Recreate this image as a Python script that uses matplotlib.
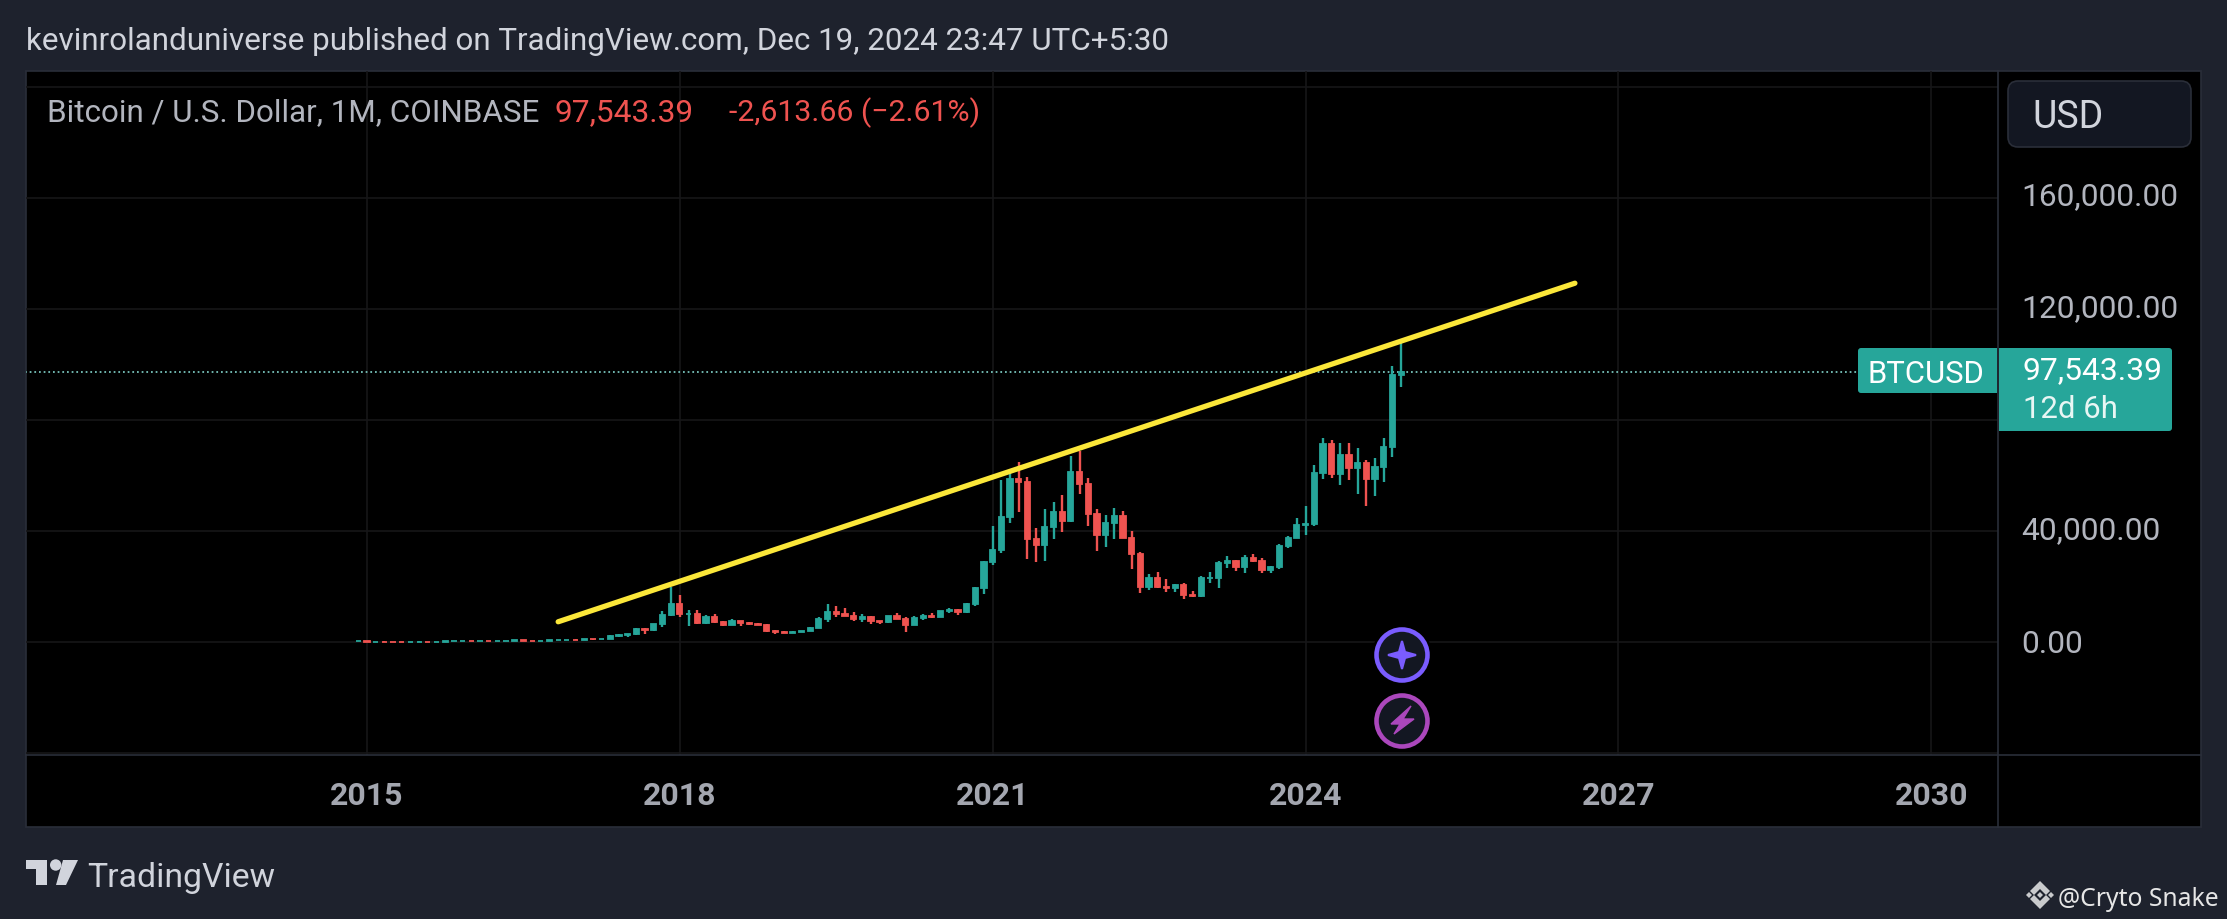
import matplotlib
matplotlib.use("Agg")
import matplotlib.pyplot as plt
from matplotlib.patches import Rectangle, FancyBboxPatch, Circle, Polygon
from matplotlib.transforms import ScaledTranslation

plt.rcParams['font.family'] = ['Roboto', 'DejaVu Sans']

# ---------- data (month index 0 = Jan 2015) ----------
months = list(range(-1, 120))
opens = [310,320,226,254,244,236,230,263,284,230,236,315,377,
 430,369,437,416,448,531,673,624,575,609,700,745,
 963,960,1190,1071,1350,2280,2480,2875,4730,4340,6440,9950,
 13880,10280,10320,6925,9240,7495,6400,7730,7025,6630,6370,4040,
 3700,3435,3815,4105,5260,8550,10760,10085,9590,8290,9150,7545,
 7170,9350,8525,6410,8620,9450,9135,11350,11655,10775,13800,19700,
 28990,33110,45240,58800,57700,37300,35040,41460,47100,43820,61300,56950,
 46220,38490,43160,45510,37630,31800,19930,23300,20050,19430,20490,17170,
 16540,23130,23140,28470,29230,27220,30470,29230,25940,26970,34650,37720,
 42270,42580,61130,71330,60670,67530,62770,64640,58970,63330,70220,96400]
closes = [320,226,254,244,236,230,263,284,230,236,315,377,430,
 369,437,416,448,531,673,624,575,609,700,745,963,
 960,1190,1071,1350,2280,2480,2875,4730,4340,6440,9950,13880,
 10280,10320,6925,9240,7495,6400,7730,7025,6630,6370,4040,3700,
 3435,3815,4105,5260,8550,10760,10085,9590,8290,9150,7545,7170,
 9350,8525,6410,8620,9450,9135,11350,11655,10775,13800,19700,28990,
 33110,45240,58800,57700,37300,35040,41460,47100,43820,61300,56950,46220,
 38490,43160,45510,37630,31800,19930,23300,20050,19430,20490,17170,16540,
 23130,23140,28470,29230,27220,30470,29230,25940,26970,34650,37720,42270,
 42580,61130,71330,60670,67530,62770,64640,58970,63330,70220,96400,97543]
highs = [378,320,265,300,262,247,268,318,284,245,334,502,465,
 462,448,441,470,548,780,704,627,628,735,760,979,
 1150,1200,1350,1355,2770,2980,2920,4980,4980,6470,11395,19891,
 17170,11790,11700,9765,10020,7780,8480,7750,7410,6800,6580,4320,
 4080,4210,4110,5630,9080,13880,13150,12330,10950,10370,9510,7750,
 9575,10500,9190,9460,10070,10380,11440,12480,12075,14100,19900,29300,
 41980,58350,61780,64900,59600,41300,48200,50500,52950,67000,69000,59050,
 47990,45850,48240,47450,40000,32400,24670,25200,22790,21090,21480,18390,
 23950,25250,29190,31050,29820,31440,31850,30230,27500,35280,38450,44700,
 48970,64000,73800,72800,71950,72000,70000,65600,66500,73620,99500,108600]
lows = [300,160,212,235,214,227,220,253,162,224,234,307,346,
 352,363,396,412,436,526,605,480,570,604,680,737,
 750,915,891,1060,1340,2070,1830,2710,2950,4100,5500,9500,
 9200,5870,6440,6430,6980,5755,6070,5880,6070,6200,3560,3120,
 3360,3370,3740,4100,5330,7440,9070,9320,7710,7300,6520,6425,
 6850,8410,3850,6150,8110,8900,8975,10530,9825,10380,13200,17570,
 27730,32300,43000,47000,30000,28800,29300,37300,39600,43200,53300,42000,
 32900,34300,37200,37600,26350,17590,18770,19550,18150,18170,15460,16260,
 16500,21350,19550,26940,25800,24800,28860,25130,24900,26560,34100,37630,
 38500,41880,59000,59150,56550,58400,53500,49000,52550,57700,66800,92000]
last_price = 97543.39

trend_months = [22, 139]
trend_prices = [7400, 129400]

x_tick_months = [0, 36, 72, 108, 144, 180]
x_tick_labels = ['2015', '2018', '2021', '2024', '2027', '2030']
y_ticks = [-40000, 0, 40000, 80000, 120000, 160000, 200000]
y_tick_labels = ['', '0.00', '40,000.00', '', '120,000.00', '160,000.00', '']

BG = '#1e222d'; GRID = '#161618'; BORDER = '#2a2e39'
TEAL = '#26a69a'; RED = '#ef5350'; TXT = '#d1d4dc'; GRAY = '#b2b5be'

W, H = 2227, 920
fig = plt.figure(figsize=(W/100, H/100), dpi=100, facecolor=BG)

def axpx(x0, y0, x1, y1, **k):
    return fig.add_axes([x0/W, 1-y1/H, (x1-x0)/W, (y1-y0)/H], **k)

# backdrop
bg = fig.add_axes([0, 0, 1, 1], zorder=0)
bg.set_xlim(0, W); bg.set_ylim(H, 0); bg.axis('off')
bg.add_patch(Rectangle((26, 72), 2175, 756, fc='black', ec=BORDER, lw=1.2))

# main chart
ax = axpx(26, 72, 1998, 756, zorder=1)
ax.patch.set_alpha(0)
px_per_month = 8.69
ax.set_xlim((26-367)/px_per_month, (1998-367)/px_per_month)
ax.set_ylim((643.3-756)/2.775*1000, (643.3-72)/2.775*1000)
for s in ax.spines.values():
    s.set_visible(False)
ax.set_xticks(x_tick_months, x_tick_labels)
ax.yaxis.tick_right()
ax.set_yticks(y_ticks, y_tick_labels)
ax.tick_params(axis='x', length=0, pad=18, labelsize=23, labelcolor='#a3a6af')
ax.tick_params(axis='y', length=0, pad=17, labelsize=22.9, labelcolor=GRAY)
for l in ax.get_xticklabels():
    l.set_fontweight('bold')
label_lift_px = [0, 1.5, 4.5, 0, 4.5, 5.5, 0]
for l, lift in zip(ax.get_yticklabels(), label_lift_px):
    l.set_transform(l.get_transform() + ScaledTranslation(0, lift/100, fig.dpi_scale_trans))
ax.grid(True, color=GRID, lw=1.2, zorder=0)
ax.set_axisbelow(True)

colors = [TEAL if c >= o else RED for o, c in zip(opens, closes)]
ax.vlines(months, lows, highs, colors=colors, lw=1.7, zorder=3)
ax.bar(months, [c-o for o, c in zip(opens, closes)], bottom=opens, width=0.6,
       color=colors, edgecolor=colors, lw=1.3, zorder=3)
ax.plot([-39.3, 188], [last_price, last_price], color='#6fb5ae', lw=1.4,
        ls=(0, (0.9, 1.5)), zorder=2, dash_capstyle='butt')
ax.plot(trend_months, trend_prices, color='#fbe739', lw=3.8, solid_capstyle='round', zorder=4)

# overlay
ov = fig.add_axes([0, 0, 1, 1], zorder=2)
ov.set_xlim(0, W); ov.set_ylim(H, 0); ov.axis('off'); ov.patch.set_alpha(0)
ov.plot([26, 2201], [756, 756], color=BORDER, lw=1.2)
ov.plot([1998, 1998], [72, 828], color=BORDER, lw=1.2)

def txt(x, y, s, **k):
    k.setdefault('va', 'center_baseline'); k.setdefault('ha', 'left')
    return ov.text(x, y, s, **k)

txt(26, 38.5, 'kevinrolanduniverse published on TradingView.com, Dec 19, 2024 23:47 UTC+5:30',
    fontsize=22.6, color=TXT)
txt(47, 109.5, 'Bitcoin / U.S. Dollar, 1M, COINBASE', fontsize=22.6, color=GRAY)
txt(555, 109.5, '97,543.39', fontsize=22.8, color=RED)
txt(729, 109.5, '-2,613.66 (\u22122.61%)', fontsize=21.8, color=RED)

# USD button
ov.add_patch(FancyBboxPatch((2014, 88), 171, 54, boxstyle='round,pad=6,rounding_size=10',
                            fc='#131722', ec=BORDER, lw=1.2))
txt(2032, 114, 'USD', fontsize=27, color=TXT)

# price labels
ov.add_patch(FancyBboxPatch((1861, 352), 140, 39, boxstyle='round,pad=3,rounding_size=3', fc=TEAL, ec='none'))
ov.add_patch(Rectangle((1990, 349), 7.5, 45, fc=TEAL, ec='none'))
ov.add_patch(FancyBboxPatch((2002, 352), 167, 77, boxstyle='round,pad=3,rounding_size=3', fc=TEAL, ec='none'))
ov.add_patch(Rectangle((1999, 349), 10, 83, fc=TEAL, ec='none'))
ov.plot([1998, 1998], [349, 394], color=BG, lw=1.2)
txt(1868, 372, 'BTCUSD', fontsize=22.3, color='white')
txt(2023, 368, '97,543.39', fontsize=22.9, color='white')
txt(2023, 407, '12d 6h', fontsize=22.4, color='#e8f6f4')

# badges
def badge(cy, col):
    ov.add_patch(Circle((1402, cy), 28.5, fc='#131722', ec='black', lw=2.5))
    ov.add_patch(Circle((1402, cy), 25.5, fc='#131722', ec=col, lw=3.3))
badge(656, '#7a5cff')
badge(722, '#ab47bc')
ov.add_patch(Polygon([(1402, 642), (1405, 653), (1416, 656), (1405, 659), (1402, 670),
                      (1399, 659), (1388, 656), (1399, 653)], fc='#7a5cff', ec='#7a5cff', lw=1.5))
ov.add_patch(Polygon([(1411, 707), (1403, 720), (1414, 720), (1394, 735), (1400, 725), (1391, 725)],
                     fc='#ab47bc', ec='#ab47bc', lw=1))

# TradingView logo
ov.add_patch(Polygon([(26, 861), (47, 861), (47, 886), (36, 886), (36, 870), (26, 870)], fc=TXT, ec='none'))
ov.add_patch(Circle((55.7, 866), 5.7, fc=TXT, ec='none'))
ov.add_patch(Polygon([(63, 861), (78, 861), (66, 886), (56, 886)], fc=TXT, ec='none'))
txt(87, 875, 'TradingView', fontsize=24.3, color=TXT)

# watermark
wm = '#c9cacc'
ov.add_patch(Polygon([(2040, 882), (2050, 892), (2046, 896), (2040, 890), (2034, 896), (2030, 892)], fc=wm, ec='none'))
ov.add_patch(Polygon([(2040, 910), (2050, 900), (2046, 896), (2040, 902), (2034, 896), (2030, 900)], fc=wm, ec='none'))
for cx, r in [(2040, 3), (2029, 3), (2051, 3)]:
    ov.add_patch(Polygon([(cx, 896-r), (cx+r, 896), (cx, 896+r), (cx-r, 896)], fc=wm, ec='none'))
txt(2058, 897, '@Cryto Snake', fontsize=17.8, color='#e6e6e6', family=['Noto Sans', 'DejaVu Sans'])

fig.savefig('out.png', dpi=100, facecolor=BG)
